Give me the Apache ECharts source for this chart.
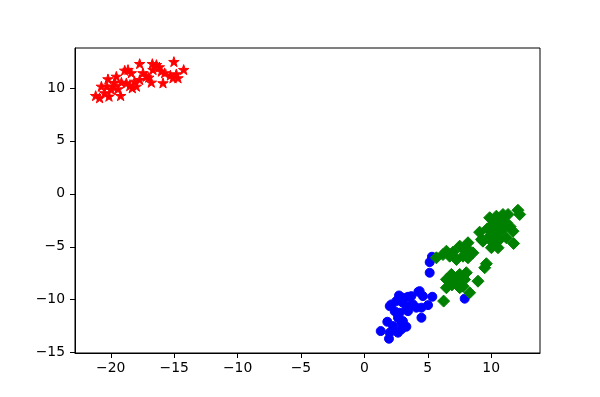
<!DOCTYPE html>
<html><head><meta charset="utf-8">
<script src="https://cdn.jsdelivr.net/npm/echarts@6/dist/echarts.min.js"></script>
<style>html,body{margin:0;padding:0;background:#fff}#c{width:600px;height:397px}</style>
</head><body><div id="c"></div>
<script>
const xTicks = [-20, -15, -10, -5, 0, 5, 10];
const yTicks = [-15, -10, -5, 0, 5, 10];

const redStars = [
  [-15.02,12.48],[-14.25,11.73],[-17.72,12.29],[-16.72,12.29],[-16.17,11.98],[-16.01,11.57],
  [-15.75,11.42],[-14.83,11.32],[-15.09,10.94],[-14.70,10.94],[-15.88,10.47],[-16.80,10.53],
  [-17.46,11.42],[-17.72,10.78],[-17.98,10.15],[-18.30,10.0],[-18.64,11.73],[-18.90,11.66],
  [-18.38,11.42],[-18.77,10.47],[-19.16,10.53],[-19.56,11.09],[-19.82,10.15],[-19.43,9.9],
  [-19.22,9.27],[-20.22,10.85],[-20.30,10.15],[-20.74,10.15],[-20.14,9.21],[-20.88,9.06],
  [-21.19,9.27],[-20.48,9.53],[-19.95,9.84],[-16.67,11.73],[-16.40,12.2],[-17.19,11.09],
  [-18.12,10.62],[-17.0,11.0],[-15.3,11.2],[-18.5,10.2],[-19.7,10.5]
];

const blueCircles = [
  [5.33,-5.94],[5.15,-6.45],[5.15,-7.45],[5.36,-9.72],[4.26,-9.25],[4.62,-9.66],[5.02,-10.51],
  [4.5,-11.7],[4.1,-10.75],[3.57,-10.6],[3.44,-9.72],[3.04,-9.81],[2.73,-9.6],[2.52,-10.13],
  [2.0,-10.6],[2.39,-11.08],[2.78,-11.23],[3.31,-10.92],[2.65,-11.7],[2.92,-12.17],[3.31,-12.55],
  [2.26,-12.49],[1.81,-12.08],[1.29,-12.96],[2.0,-13.11],[2.65,-13.11],[1.94,-13.68],[7.91,-9.9],
  [4.36,-9.19],[3.7,-9.66],[2.13,-10.44],[3.04,-10.28],[3.83,-10.44],[3.44,-11.08],[4.5,-10.75],
  [3.04,-12.02],[2.92,-12.8]
];

const greenDiamonds = [
  [12.11,-1.55],[12.25,-1.95],[10.93,-1.95],[10.41,-2.11],[9.88,-2.26],[10.67,-2.58],[11.2,-2.74],
  [10.14,-2.9],[11.72,-3.53],[10.93,-3.37],[10.41,-3.84],[9.88,-4.0],[9.09,-3.62],[9.35,-4.47],
  [10.14,-4.62],[10.67,-4.31],[11.2,-4.15],[10.54,-5.09],[10.02,-5.09],[11.77,-4.69],[9.62,-6.6],
  [9.49,-6.98],[8.96,-8.25],[8.17,-4.62],[8.04,-5.09],[8.56,-5.57],[7.52,-4.94],[7.78,-5.89],
  [7.26,-6.2],[6.47,-5.42],[6.2,-5.73],[5.68,-6.04],[6.73,-5.89],[8.17,-6.04],[8.04,-7.45],
  [7.52,-7.61],[6.86,-7.61],[6.47,-8.08],[7.12,-8.4],[7.52,-8.87],[8.3,-9.34],[7.78,-8.72],
  [6.47,-8.87],[6.25,-10.13],[9.23,-4.31],[11.33,-1.95],
  [10.5,-3.2],[11.0,-3.0],[9.7,-3.3],[10.2,-3.6],[7.3,-7.9],[7.9,-8.1],[6.9,-8.6],[7.0,-5.5],
  [7.9,-5.3],[11.5,-3.1]
];

const starPath = 'path://M100,0 L122.45,69.1 L195.11,69.1 L136.33,111.8 L158.78,180.9 L100,138.2 L41.22,180.9 L63.67,111.8 L4.89,69.1 L77.55,69.1 Z';
const fmt = v => String(v).replace('-', '\u2212');
const font = {fontFamily: 'DejaVu Sans', fontSize: 13.9, color: '#000'};

const chart = echarts.init(document.getElementById('c'), null, {renderer: 'canvas'});
chart.setOption({
  animation: false,
  grid: {left: 75, top: 48, right: 60, bottom: 44, show: true, borderColor: '#000', borderWidth: 1, backgroundColor: 'transparent'},
  xAxis: {
    type: 'value', min: -22.82, max: 13.85,
    splitLine: {show: false},
    axisLine: {show: true, onZero: false, lineStyle: {color: '#000', width: 1}},
    axisTick: {show: true, length: 5, customValues: xTicks, lineStyle: {color: '#000'}},
    axisLabel: Object.assign({show: true, margin: 8, customValues: xTicks, formatter: fmt}, font)
  },
  yAxis: {
    type: 'value', min: -15.03, max: 13.77,
    splitLine: {show: false},
    axisLine: {show: true, onZero: false, lineStyle: {color: '#000', width: 1}},
    axisTick: {show: true, length: 5, customValues: yTicks, lineStyle: {color: '#000'}},
    axisLabel: Object.assign({show: true, margin: 10, customValues: yTicks, formatter: fmt}, font)
  },
  series: [
    {type: 'scatter', data: redStars, symbol: starPath, symbolKeepAspect: true, symbolSize: 10.5,
     itemStyle: {color: '#ff0000', borderColor: '#ff0000', borderWidth: 1, opacity: 1}},
    {type: 'scatter', data: blueCircles, symbol: 'circle', symbolSize: 9,
     itemStyle: {color: '#0000ff', borderColor: '#0000ff', borderWidth: 1, opacity: 1}},
    {type: 'scatter', data: greenDiamonds, symbol: 'diamond', symbolSize: 12,
     itemStyle: {color: '#008000', borderColor: '#008000', borderWidth: 1, opacity: 1}}
  ]
});
</script>
</body></html>
